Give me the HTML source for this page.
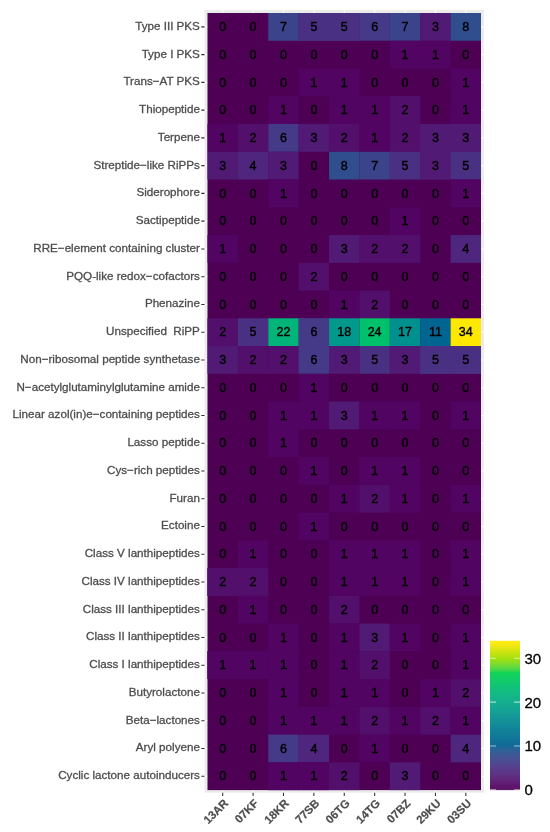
<!DOCTYPE html>
<html><head><meta charset="utf-8"><title>heatmap</title>
<style>html,body{margin:0;padding:0;background:#fff}svg{display:block}</style></head>
<body>
<svg width="550" height="832" viewBox="0 0 550 832" font-family="Liberation Sans, Arial, Helvetica, sans-serif">
<rect width="550" height="832" fill="#fff"/>
<rect x="204.55" y="10.1" width="279.34999999999997" height="782.6" fill="#EBEBEB"/>
<path d="M222.69 10.1V792.7M253.08 10.1V792.7M283.47 10.1V792.7M313.86 10.1V792.7M344.25 10.1V792.7M374.64 10.1V792.7M405.03 10.1V792.7M435.42 10.1V792.7M465.81 10.1V792.7M204.55 26.88H483.9M204.55 54.63H483.9M204.55 82.38H483.9M204.55 110.14H483.9M204.55 137.89H483.9M204.55 165.64H483.9M204.55 193.40H483.9M204.55 221.15H483.9M204.55 248.91H483.9M204.55 276.66H483.9M204.55 304.41H483.9M204.55 332.17H483.9M204.55 359.92H483.9M204.55 387.67H483.9M204.55 415.43H483.9M204.55 443.18H483.9M204.55 470.93H483.9M204.55 498.69H483.9M204.55 526.44H483.9M204.55 554.19H483.9M204.55 581.95H483.9M204.55 609.70H483.9M204.55 637.46H483.9M204.55 665.21H483.9M204.55 692.96H483.9M204.55 720.72H483.9M204.55 748.47H483.9M204.55 776.22H483.9" stroke="#fff" stroke-width="1.07" fill="none"/>
<g>
<rect x="207.5" y="13.0" width="273.50" height="777.10" fill="#4E0055"/>
<rect x="298.67" y="13.00" width="30.84" height="27.75" fill="#4A3083"/>
<rect x="328.61" y="13.00" width="30.84" height="27.75" fill="#4A3083"/>
<rect x="389.83" y="40.75" width="30.84" height="27.75" fill="#510461"/>
<rect x="419.77" y="40.75" width="30.84" height="27.75" fill="#510461"/>
<rect x="298.67" y="68.51" width="30.84" height="27.75" fill="#510461"/>
<rect x="328.61" y="68.51" width="30.84" height="28.20" fill="#510461"/>
<rect x="450.61" y="68.51" width="30.39" height="28.20" fill="#510461"/>
<rect x="329.06" y="95.81" width="30.84" height="28.20" fill="#510461"/>
<rect x="358.99" y="96.26" width="30.84" height="28.20" fill="#510461"/>
<rect x="389.83" y="96.26" width="30.39" height="28.20" fill="#520F6B"/>
<rect x="450.61" y="95.81" width="30.39" height="28.20" fill="#510461"/>
<rect x="359.44" y="123.56" width="30.39" height="28.20" fill="#510461"/>
<rect x="389.83" y="123.56" width="30.39" height="28.20" fill="#520F6B"/>
<rect x="420.22" y="124.01" width="30.84" height="28.20" fill="#511B75"/>
<rect x="450.16" y="124.01" width="30.84" height="27.75" fill="#511B75"/>
<rect x="420.22" y="151.32" width="30.39" height="28.20" fill="#511B75"/>
<rect x="359.44" y="235.03" width="30.84" height="27.75" fill="#520F6B"/>
<rect x="389.38" y="235.03" width="30.84" height="27.75" fill="#520F6B"/>
<rect x="298.67" y="318.29" width="30.39" height="28.20" fill="#443A88"/>
<rect x="237.89" y="346.04" width="30.84" height="27.75" fill="#520F6B"/>
<rect x="267.83" y="346.04" width="30.84" height="27.75" fill="#520F6B"/>
<rect x="298.67" y="345.59" width="30.39" height="28.20" fill="#443A88"/>
<rect x="420.22" y="346.04" width="30.84" height="27.75" fill="#4A3083"/>
<rect x="450.16" y="346.04" width="30.84" height="27.75" fill="#4A3083"/>
<rect x="298.67" y="373.80" width="30.39" height="28.20" fill="#510461"/>
<rect x="268.28" y="401.55" width="30.84" height="28.20" fill="#510461"/>
<rect x="298.22" y="401.10" width="30.84" height="28.20" fill="#510461"/>
<rect x="359.44" y="401.55" width="30.84" height="27.75" fill="#510461"/>
<rect x="389.38" y="401.55" width="30.84" height="27.75" fill="#510461"/>
<rect x="268.28" y="428.85" width="30.39" height="28.20" fill="#510461"/>
<rect x="359.44" y="457.06" width="30.84" height="27.75" fill="#510461"/>
<rect x="389.38" y="457.06" width="30.84" height="28.20" fill="#510461"/>
<rect x="389.83" y="484.36" width="30.39" height="28.20" fill="#510461"/>
<rect x="329.06" y="540.32" width="30.84" height="28.20" fill="#510461"/>
<rect x="358.99" y="540.32" width="31.29" height="28.20" fill="#510461"/>
<rect x="389.38" y="540.32" width="30.84" height="28.20" fill="#510461"/>
<rect x="450.61" y="540.32" width="30.39" height="28.20" fill="#510461"/>
<rect x="207.50" y="568.07" width="30.84" height="27.75" fill="#520F6B"/>
<rect x="237.44" y="568.07" width="30.84" height="27.75" fill="#520F6B"/>
<rect x="329.06" y="567.62" width="30.84" height="28.20" fill="#510461"/>
<rect x="358.99" y="567.62" width="31.29" height="28.20" fill="#510461"/>
<rect x="389.38" y="567.62" width="30.84" height="28.20" fill="#510461"/>
<rect x="450.61" y="567.62" width="30.39" height="28.20" fill="#510461"/>
<rect x="268.28" y="623.58" width="30.39" height="28.20" fill="#510461"/>
<rect x="329.06" y="623.58" width="30.39" height="28.20" fill="#510461"/>
<rect x="450.61" y="623.58" width="30.39" height="28.20" fill="#510461"/>
<rect x="207.50" y="651.33" width="30.84" height="27.75" fill="#510461"/>
<rect x="237.44" y="651.33" width="31.29" height="27.75" fill="#510461"/>
<rect x="267.83" y="650.88" width="30.84" height="28.65" fill="#510461"/>
<rect x="329.06" y="650.88" width="30.39" height="28.65" fill="#510461"/>
<rect x="450.61" y="650.88" width="30.39" height="28.20" fill="#510461"/>
<rect x="268.28" y="678.64" width="30.39" height="28.65" fill="#510461"/>
<rect x="329.06" y="678.64" width="30.84" height="28.65" fill="#510461"/>
<rect x="358.99" y="679.09" width="30.84" height="27.75" fill="#510461"/>
<rect x="268.28" y="706.39" width="30.84" height="28.20" fill="#510461"/>
<rect x="298.22" y="706.84" width="31.29" height="27.75" fill="#510461"/>
<rect x="328.61" y="706.39" width="30.84" height="28.20" fill="#510461"/>
<rect x="268.28" y="762.35" width="30.84" height="27.75" fill="#510461"/>
<rect x="298.22" y="762.35" width="30.84" height="27.75" fill="#510461"/>
<rect x="268.28" y="13.00" width="30.39" height="27.75" fill="#3B448B"/>
<rect x="298.67" y="13.00" width="30.39" height="27.75" fill="#4A3083"/>
<rect x="329.06" y="13.00" width="30.39" height="27.75" fill="#4A3083"/>
<rect x="359.44" y="13.00" width="30.39" height="27.75" fill="#443A88"/>
<rect x="389.83" y="13.00" width="30.39" height="27.75" fill="#3B448B"/>
<rect x="420.22" y="13.00" width="30.39" height="27.75" fill="#511B75"/>
<rect x="450.61" y="13.00" width="30.39" height="27.75" fill="#304D8D"/>
<rect x="389.83" y="40.75" width="30.39" height="27.75" fill="#510461"/>
<rect x="420.22" y="40.75" width="30.39" height="27.75" fill="#510461"/>
<rect x="298.67" y="68.51" width="30.39" height="27.75" fill="#510461"/>
<rect x="329.06" y="68.51" width="30.39" height="27.75" fill="#510461"/>
<rect x="450.61" y="68.51" width="30.39" height="27.75" fill="#510461"/>
<rect x="268.28" y="96.26" width="30.39" height="27.75" fill="#510461"/>
<rect x="329.06" y="96.26" width="30.39" height="27.75" fill="#510461"/>
<rect x="359.44" y="96.26" width="30.39" height="27.75" fill="#510461"/>
<rect x="389.83" y="96.26" width="30.39" height="27.75" fill="#520F6B"/>
<rect x="450.61" y="96.26" width="30.39" height="27.75" fill="#510461"/>
<rect x="207.50" y="124.01" width="30.39" height="27.75" fill="#510461"/>
<rect x="237.89" y="124.01" width="30.39" height="27.75" fill="#520F6B"/>
<rect x="268.28" y="124.01" width="30.39" height="27.75" fill="#443A88"/>
<rect x="298.67" y="124.01" width="30.39" height="27.75" fill="#511B75"/>
<rect x="329.06" y="124.01" width="30.39" height="27.75" fill="#520F6B"/>
<rect x="359.44" y="124.01" width="30.39" height="27.75" fill="#510461"/>
<rect x="389.83" y="124.01" width="30.39" height="27.75" fill="#520F6B"/>
<rect x="420.22" y="124.01" width="30.39" height="27.75" fill="#511B75"/>
<rect x="450.61" y="124.01" width="30.39" height="27.75" fill="#511B75"/>
<rect x="207.50" y="151.77" width="30.39" height="27.75" fill="#511B75"/>
<rect x="237.89" y="151.77" width="30.39" height="27.75" fill="#4F267D"/>
<rect x="268.28" y="151.77" width="30.39" height="27.75" fill="#511B75"/>
<rect x="329.06" y="151.77" width="30.39" height="27.75" fill="#304D8D"/>
<rect x="359.44" y="151.77" width="30.39" height="27.75" fill="#3B448B"/>
<rect x="389.83" y="151.77" width="30.39" height="27.75" fill="#4A3083"/>
<rect x="420.22" y="151.77" width="30.39" height="27.75" fill="#511B75"/>
<rect x="450.61" y="151.77" width="30.39" height="27.75" fill="#4A3083"/>
<rect x="268.28" y="179.52" width="30.39" height="27.75" fill="#510461"/>
<rect x="450.61" y="179.52" width="30.39" height="27.75" fill="#510461"/>
<rect x="389.83" y="207.28" width="30.39" height="27.75" fill="#510461"/>
<rect x="207.50" y="235.03" width="30.39" height="27.75" fill="#510461"/>
<rect x="329.06" y="235.03" width="30.39" height="27.75" fill="#511B75"/>
<rect x="359.44" y="235.03" width="30.39" height="27.75" fill="#520F6B"/>
<rect x="389.83" y="235.03" width="30.39" height="27.75" fill="#520F6B"/>
<rect x="450.61" y="235.03" width="30.39" height="27.75" fill="#4F267D"/>
<rect x="298.67" y="262.78" width="30.39" height="27.75" fill="#520F6B"/>
<rect x="329.06" y="290.54" width="30.39" height="27.75" fill="#510461"/>
<rect x="359.44" y="290.54" width="30.39" height="27.75" fill="#520F6B"/>
<rect x="207.50" y="318.29" width="30.39" height="27.75" fill="#520F6B"/>
<rect x="237.89" y="318.29" width="30.39" height="27.75" fill="#4A3083"/>
<rect x="268.28" y="318.29" width="30.39" height="27.75" fill="#00B47A"/>
<rect x="298.67" y="318.29" width="30.39" height="27.75" fill="#443A88"/>
<rect x="329.06" y="318.29" width="30.39" height="27.75" fill="#00998C"/>
<rect x="359.44" y="318.29" width="30.39" height="27.75" fill="#00C16B"/>
<rect x="389.83" y="318.29" width="30.39" height="27.75" fill="#00918E"/>
<rect x="420.22" y="318.29" width="30.39" height="27.75" fill="#006590"/>
<rect x="450.61" y="318.29" width="30.39" height="27.75" fill="#FFE800"/>
<rect x="207.50" y="346.04" width="30.39" height="27.75" fill="#511B75"/>
<rect x="237.89" y="346.04" width="30.39" height="27.75" fill="#520F6B"/>
<rect x="268.28" y="346.04" width="30.39" height="27.75" fill="#520F6B"/>
<rect x="298.67" y="346.04" width="30.39" height="27.75" fill="#443A88"/>
<rect x="329.06" y="346.04" width="30.39" height="27.75" fill="#511B75"/>
<rect x="359.44" y="346.04" width="30.39" height="27.75" fill="#4A3083"/>
<rect x="389.83" y="346.04" width="30.39" height="27.75" fill="#511B75"/>
<rect x="420.22" y="346.04" width="30.39" height="27.75" fill="#4A3083"/>
<rect x="450.61" y="346.04" width="30.39" height="27.75" fill="#4A3083"/>
<rect x="298.67" y="373.80" width="30.39" height="27.75" fill="#510461"/>
<rect x="268.28" y="401.55" width="30.39" height="27.75" fill="#510461"/>
<rect x="298.67" y="401.55" width="30.39" height="27.75" fill="#510461"/>
<rect x="329.06" y="401.55" width="30.39" height="27.75" fill="#511B75"/>
<rect x="359.44" y="401.55" width="30.39" height="27.75" fill="#510461"/>
<rect x="389.83" y="401.55" width="30.39" height="27.75" fill="#510461"/>
<rect x="450.61" y="401.55" width="30.39" height="27.75" fill="#510461"/>
<rect x="268.28" y="429.30" width="30.39" height="27.75" fill="#510461"/>
<rect x="298.67" y="457.06" width="30.39" height="27.75" fill="#510461"/>
<rect x="359.44" y="457.06" width="30.39" height="27.75" fill="#510461"/>
<rect x="389.83" y="457.06" width="30.39" height="27.75" fill="#510461"/>
<rect x="329.06" y="484.81" width="30.39" height="27.75" fill="#510461"/>
<rect x="359.44" y="484.81" width="30.39" height="27.75" fill="#520F6B"/>
<rect x="389.83" y="484.81" width="30.39" height="27.75" fill="#510461"/>
<rect x="450.61" y="484.81" width="30.39" height="27.75" fill="#510461"/>
<rect x="298.67" y="512.56" width="30.39" height="27.75" fill="#510461"/>
<rect x="237.89" y="540.32" width="30.39" height="27.75" fill="#510461"/>
<rect x="329.06" y="540.32" width="30.39" height="27.75" fill="#510461"/>
<rect x="359.44" y="540.32" width="30.39" height="27.75" fill="#510461"/>
<rect x="389.83" y="540.32" width="30.39" height="27.75" fill="#510461"/>
<rect x="450.61" y="540.32" width="30.39" height="27.75" fill="#510461"/>
<rect x="207.50" y="568.07" width="30.39" height="27.75" fill="#520F6B"/>
<rect x="237.89" y="568.07" width="30.39" height="27.75" fill="#520F6B"/>
<rect x="329.06" y="568.07" width="30.39" height="27.75" fill="#510461"/>
<rect x="359.44" y="568.07" width="30.39" height="27.75" fill="#510461"/>
<rect x="389.83" y="568.07" width="30.39" height="27.75" fill="#510461"/>
<rect x="450.61" y="568.07" width="30.39" height="27.75" fill="#510461"/>
<rect x="237.89" y="595.83" width="30.39" height="27.75" fill="#510461"/>
<rect x="329.06" y="595.83" width="30.39" height="27.75" fill="#520F6B"/>
<rect x="268.28" y="623.58" width="30.39" height="27.75" fill="#510461"/>
<rect x="329.06" y="623.58" width="30.39" height="27.75" fill="#510461"/>
<rect x="359.44" y="623.58" width="30.39" height="27.75" fill="#511B75"/>
<rect x="389.83" y="623.58" width="30.39" height="27.75" fill="#510461"/>
<rect x="450.61" y="623.58" width="30.39" height="27.75" fill="#510461"/>
<rect x="207.50" y="651.33" width="30.39" height="27.75" fill="#510461"/>
<rect x="237.89" y="651.33" width="30.39" height="27.75" fill="#510461"/>
<rect x="268.28" y="651.33" width="30.39" height="27.75" fill="#510461"/>
<rect x="329.06" y="651.33" width="30.39" height="27.75" fill="#510461"/>
<rect x="359.44" y="651.33" width="30.39" height="27.75" fill="#520F6B"/>
<rect x="450.61" y="651.33" width="30.39" height="27.75" fill="#510461"/>
<rect x="268.28" y="679.09" width="30.39" height="27.75" fill="#510461"/>
<rect x="329.06" y="679.09" width="30.39" height="27.75" fill="#510461"/>
<rect x="359.44" y="679.09" width="30.39" height="27.75" fill="#510461"/>
<rect x="420.22" y="679.09" width="30.39" height="27.75" fill="#510461"/>
<rect x="450.61" y="679.09" width="30.39" height="27.75" fill="#520F6B"/>
<rect x="268.28" y="706.84" width="30.39" height="27.75" fill="#510461"/>
<rect x="298.67" y="706.84" width="30.39" height="27.75" fill="#510461"/>
<rect x="329.06" y="706.84" width="30.39" height="27.75" fill="#510461"/>
<rect x="359.44" y="706.84" width="30.39" height="27.75" fill="#520F6B"/>
<rect x="389.83" y="706.84" width="30.39" height="27.75" fill="#510461"/>
<rect x="420.22" y="706.84" width="30.39" height="27.75" fill="#520F6B"/>
<rect x="450.61" y="706.84" width="30.39" height="27.75" fill="#510461"/>
<rect x="268.28" y="734.59" width="30.39" height="27.75" fill="#443A88"/>
<rect x="298.67" y="734.59" width="30.39" height="27.75" fill="#4F267D"/>
<rect x="359.44" y="734.59" width="30.39" height="27.75" fill="#510461"/>
<rect x="450.61" y="734.59" width="30.39" height="27.75" fill="#4F267D"/>
<rect x="268.28" y="762.35" width="30.39" height="27.75" fill="#510461"/>
<rect x="298.67" y="762.35" width="30.39" height="27.75" fill="#510461"/>
<rect x="329.06" y="762.35" width="30.39" height="27.75" fill="#520F6B"/>
<rect x="389.83" y="762.35" width="30.39" height="27.75" fill="#511B75"/>
</g>
<g font-size="12.5" text-anchor="middle" fill="#000" stroke="#000" stroke-width="0.4">
<text x="222.69" y="31.13">0</text>
<text x="253.08" y="31.13">0</text>
<text x="283.47" y="31.13">7</text>
<text x="313.86" y="31.13">5</text>
<text x="344.25" y="31.13">5</text>
<text x="374.64" y="31.13">6</text>
<text x="405.03" y="31.13">7</text>
<text x="435.42" y="31.13">3</text>
<text x="465.81" y="31.13">8</text>
<text x="222.69" y="58.88">0</text>
<text x="253.08" y="58.88">0</text>
<text x="283.47" y="58.88">0</text>
<text x="313.86" y="58.88">0</text>
<text x="344.25" y="58.88">0</text>
<text x="374.64" y="58.88">0</text>
<text x="405.03" y="58.88">1</text>
<text x="435.42" y="58.88">1</text>
<text x="465.81" y="58.88">0</text>
<text x="222.69" y="86.63">0</text>
<text x="253.08" y="86.63">0</text>
<text x="283.47" y="86.63">0</text>
<text x="313.86" y="86.63">1</text>
<text x="344.25" y="86.63">1</text>
<text x="374.64" y="86.63">0</text>
<text x="405.03" y="86.63">0</text>
<text x="435.42" y="86.63">0</text>
<text x="465.81" y="86.63">1</text>
<text x="222.69" y="114.39">0</text>
<text x="253.08" y="114.39">0</text>
<text x="283.47" y="114.39">1</text>
<text x="313.86" y="114.39">0</text>
<text x="344.25" y="114.39">1</text>
<text x="374.64" y="114.39">1</text>
<text x="405.03" y="114.39">2</text>
<text x="435.42" y="114.39">0</text>
<text x="465.81" y="114.39">1</text>
<text x="222.69" y="142.14">1</text>
<text x="253.08" y="142.14">2</text>
<text x="283.47" y="142.14">6</text>
<text x="313.86" y="142.14">3</text>
<text x="344.25" y="142.14">2</text>
<text x="374.64" y="142.14">1</text>
<text x="405.03" y="142.14">2</text>
<text x="435.42" y="142.14">3</text>
<text x="465.81" y="142.14">3</text>
<text x="222.69" y="169.89">3</text>
<text x="253.08" y="169.89">4</text>
<text x="283.47" y="169.89">3</text>
<text x="313.86" y="169.89">0</text>
<text x="344.25" y="169.89">8</text>
<text x="374.64" y="169.89">7</text>
<text x="405.03" y="169.89">5</text>
<text x="435.42" y="169.89">3</text>
<text x="465.81" y="169.89">5</text>
<text x="222.69" y="197.65">0</text>
<text x="253.08" y="197.65">0</text>
<text x="283.47" y="197.65">1</text>
<text x="313.86" y="197.65">0</text>
<text x="344.25" y="197.65">0</text>
<text x="374.64" y="197.65">0</text>
<text x="405.03" y="197.65">0</text>
<text x="435.42" y="197.65">0</text>
<text x="465.81" y="197.65">1</text>
<text x="222.69" y="225.40">0</text>
<text x="253.08" y="225.40">0</text>
<text x="283.47" y="225.40">0</text>
<text x="313.86" y="225.40">0</text>
<text x="344.25" y="225.40">0</text>
<text x="374.64" y="225.40">0</text>
<text x="405.03" y="225.40">1</text>
<text x="435.42" y="225.40">0</text>
<text x="465.81" y="225.40">0</text>
<text x="222.69" y="253.16">1</text>
<text x="253.08" y="253.16">0</text>
<text x="283.47" y="253.16">0</text>
<text x="313.86" y="253.16">0</text>
<text x="344.25" y="253.16">3</text>
<text x="374.64" y="253.16">2</text>
<text x="405.03" y="253.16">2</text>
<text x="435.42" y="253.16">0</text>
<text x="465.81" y="253.16">4</text>
<text x="222.69" y="280.91">0</text>
<text x="253.08" y="280.91">0</text>
<text x="283.47" y="280.91">0</text>
<text x="313.86" y="280.91">2</text>
<text x="344.25" y="280.91">0</text>
<text x="374.64" y="280.91">0</text>
<text x="405.03" y="280.91">0</text>
<text x="435.42" y="280.91">0</text>
<text x="465.81" y="280.91">0</text>
<text x="222.69" y="308.66">0</text>
<text x="253.08" y="308.66">0</text>
<text x="283.47" y="308.66">0</text>
<text x="313.86" y="308.66">0</text>
<text x="344.25" y="308.66">1</text>
<text x="374.64" y="308.66">2</text>
<text x="405.03" y="308.66">0</text>
<text x="435.42" y="308.66">0</text>
<text x="465.81" y="308.66">0</text>
<text x="222.69" y="336.42">2</text>
<text x="253.08" y="336.42">5</text>
<text x="283.47" y="336.42">22</text>
<text x="313.86" y="336.42">6</text>
<text x="344.25" y="336.42">18</text>
<text x="374.64" y="336.42">24</text>
<text x="405.03" y="336.42">17</text>
<text x="435.42" y="336.42">11</text>
<text x="465.81" y="336.42">34</text>
<text x="222.69" y="364.17">3</text>
<text x="253.08" y="364.17">2</text>
<text x="283.47" y="364.17">2</text>
<text x="313.86" y="364.17">6</text>
<text x="344.25" y="364.17">3</text>
<text x="374.64" y="364.17">5</text>
<text x="405.03" y="364.17">3</text>
<text x="435.42" y="364.17">5</text>
<text x="465.81" y="364.17">5</text>
<text x="222.69" y="391.92">0</text>
<text x="253.08" y="391.92">0</text>
<text x="283.47" y="391.92">0</text>
<text x="313.86" y="391.92">1</text>
<text x="344.25" y="391.92">0</text>
<text x="374.64" y="391.92">0</text>
<text x="405.03" y="391.92">0</text>
<text x="435.42" y="391.92">0</text>
<text x="465.81" y="391.92">0</text>
<text x="222.69" y="419.68">0</text>
<text x="253.08" y="419.68">0</text>
<text x="283.47" y="419.68">1</text>
<text x="313.86" y="419.68">1</text>
<text x="344.25" y="419.68">3</text>
<text x="374.64" y="419.68">1</text>
<text x="405.03" y="419.68">1</text>
<text x="435.42" y="419.68">0</text>
<text x="465.81" y="419.68">1</text>
<text x="222.69" y="447.43">0</text>
<text x="253.08" y="447.43">0</text>
<text x="283.47" y="447.43">1</text>
<text x="313.86" y="447.43">0</text>
<text x="344.25" y="447.43">0</text>
<text x="374.64" y="447.43">0</text>
<text x="405.03" y="447.43">0</text>
<text x="435.42" y="447.43">0</text>
<text x="465.81" y="447.43">0</text>
<text x="222.69" y="475.18">0</text>
<text x="253.08" y="475.18">0</text>
<text x="283.47" y="475.18">0</text>
<text x="313.86" y="475.18">1</text>
<text x="344.25" y="475.18">0</text>
<text x="374.64" y="475.18">1</text>
<text x="405.03" y="475.18">1</text>
<text x="435.42" y="475.18">0</text>
<text x="465.81" y="475.18">0</text>
<text x="222.69" y="502.94">0</text>
<text x="253.08" y="502.94">0</text>
<text x="283.47" y="502.94">0</text>
<text x="313.86" y="502.94">0</text>
<text x="344.25" y="502.94">1</text>
<text x="374.64" y="502.94">2</text>
<text x="405.03" y="502.94">1</text>
<text x="435.42" y="502.94">0</text>
<text x="465.81" y="502.94">1</text>
<text x="222.69" y="530.69">0</text>
<text x="253.08" y="530.69">0</text>
<text x="283.47" y="530.69">0</text>
<text x="313.86" y="530.69">1</text>
<text x="344.25" y="530.69">0</text>
<text x="374.64" y="530.69">0</text>
<text x="405.03" y="530.69">0</text>
<text x="435.42" y="530.69">0</text>
<text x="465.81" y="530.69">0</text>
<text x="222.69" y="558.44">0</text>
<text x="253.08" y="558.44">1</text>
<text x="283.47" y="558.44">0</text>
<text x="313.86" y="558.44">0</text>
<text x="344.25" y="558.44">1</text>
<text x="374.64" y="558.44">1</text>
<text x="405.03" y="558.44">1</text>
<text x="435.42" y="558.44">0</text>
<text x="465.81" y="558.44">1</text>
<text x="222.69" y="586.20">2</text>
<text x="253.08" y="586.20">2</text>
<text x="283.47" y="586.20">0</text>
<text x="313.86" y="586.20">0</text>
<text x="344.25" y="586.20">1</text>
<text x="374.64" y="586.20">1</text>
<text x="405.03" y="586.20">1</text>
<text x="435.42" y="586.20">0</text>
<text x="465.81" y="586.20">1</text>
<text x="222.69" y="613.95">0</text>
<text x="253.08" y="613.95">1</text>
<text x="283.47" y="613.95">0</text>
<text x="313.86" y="613.95">0</text>
<text x="344.25" y="613.95">2</text>
<text x="374.64" y="613.95">0</text>
<text x="405.03" y="613.95">0</text>
<text x="435.42" y="613.95">0</text>
<text x="465.81" y="613.95">0</text>
<text x="222.69" y="641.71">0</text>
<text x="253.08" y="641.71">0</text>
<text x="283.47" y="641.71">1</text>
<text x="313.86" y="641.71">0</text>
<text x="344.25" y="641.71">1</text>
<text x="374.64" y="641.71">3</text>
<text x="405.03" y="641.71">1</text>
<text x="435.42" y="641.71">0</text>
<text x="465.81" y="641.71">1</text>
<text x="222.69" y="669.46">1</text>
<text x="253.08" y="669.46">1</text>
<text x="283.47" y="669.46">1</text>
<text x="313.86" y="669.46">0</text>
<text x="344.25" y="669.46">1</text>
<text x="374.64" y="669.46">2</text>
<text x="405.03" y="669.46">0</text>
<text x="435.42" y="669.46">0</text>
<text x="465.81" y="669.46">1</text>
<text x="222.69" y="697.21">0</text>
<text x="253.08" y="697.21">0</text>
<text x="283.47" y="697.21">1</text>
<text x="313.86" y="697.21">0</text>
<text x="344.25" y="697.21">1</text>
<text x="374.64" y="697.21">1</text>
<text x="405.03" y="697.21">0</text>
<text x="435.42" y="697.21">1</text>
<text x="465.81" y="697.21">2</text>
<text x="222.69" y="724.97">0</text>
<text x="253.08" y="724.97">0</text>
<text x="283.47" y="724.97">1</text>
<text x="313.86" y="724.97">1</text>
<text x="344.25" y="724.97">1</text>
<text x="374.64" y="724.97">2</text>
<text x="405.03" y="724.97">1</text>
<text x="435.42" y="724.97">2</text>
<text x="465.81" y="724.97">1</text>
<text x="222.69" y="752.72">0</text>
<text x="253.08" y="752.72">0</text>
<text x="283.47" y="752.72">6</text>
<text x="313.86" y="752.72">4</text>
<text x="344.25" y="752.72">0</text>
<text x="374.64" y="752.72">1</text>
<text x="405.03" y="752.72">0</text>
<text x="435.42" y="752.72">0</text>
<text x="465.81" y="752.72">4</text>
<text x="222.69" y="780.47">0</text>
<text x="253.08" y="780.47">0</text>
<text x="283.47" y="780.47">1</text>
<text x="313.86" y="780.47">1</text>
<text x="344.25" y="780.47">2</text>
<text x="374.64" y="780.47">0</text>
<text x="405.03" y="780.47">3</text>
<text x="435.42" y="780.47">0</text>
<text x="465.81" y="780.47">0</text>
</g>
<g font-size="11.65" text-anchor="end" fill="#4D4D4D" stroke="#4D4D4D" stroke-width="0.3">
<text x="199.9" y="29.78" xml:space="preserve">Type III PKS</text>
<text x="199.9" y="57.53" xml:space="preserve">Type I PKS</text>
<text x="199.9" y="85.28" xml:space="preserve">Trans−AT PKS</text>
<text x="199.9" y="113.04" xml:space="preserve">Thiopeptide</text>
<text x="199.9" y="140.79" xml:space="preserve">Terpene</text>
<text x="199.9" y="168.54" xml:space="preserve">Streptide−like RiPPs</text>
<text x="199.9" y="196.30" xml:space="preserve">Siderophore</text>
<text x="199.9" y="224.05" xml:space="preserve">Sactipeptide</text>
<text x="199.9" y="251.81" xml:space="preserve">RRE−element containing cluster</text>
<text x="199.9" y="279.56" xml:space="preserve">PQQ-like redox−cofactors</text>
<text x="199.9" y="307.31" xml:space="preserve">Phenazine</text>
<text x="199.9" y="335.07" xml:space="preserve">Unspecified  RiPP</text>
<text x="199.9" y="362.82" xml:space="preserve">Non−ribosomal peptide synthetase</text>
<text x="199.9" y="390.57" xml:space="preserve">N−acetylglutaminylglutamine amide</text>
<text x="199.9" y="418.33" xml:space="preserve">Linear azol(in)e−containing peptides</text>
<text x="199.9" y="446.08" xml:space="preserve">Lasso peptide</text>
<text x="199.9" y="473.83" xml:space="preserve">Cys−rich peptides</text>
<text x="199.9" y="501.59" xml:space="preserve">Furan</text>
<text x="199.9" y="529.34" xml:space="preserve">Ectoine</text>
<text x="199.9" y="557.09" xml:space="preserve">Class V lanthipeptides</text>
<text x="199.9" y="584.85" xml:space="preserve">Class IV lanthipeptides</text>
<text x="199.9" y="612.60" xml:space="preserve">Class III lanthipeptides</text>
<text x="199.9" y="640.36" xml:space="preserve">Class II lanthipeptides</text>
<text x="199.9" y="668.11" xml:space="preserve">Class I lanthipeptides</text>
<text x="199.9" y="695.86" xml:space="preserve">Butyrolactone</text>
<text x="199.9" y="723.62" xml:space="preserve">Beta−lactones</text>
<text x="199.9" y="751.37" xml:space="preserve">Aryl polyene</text>
<text x="199.9" y="779.12" xml:space="preserve">Cyclic lactone autoinducers</text>
</g>
<path d="M201.25 26.88H204.55M201.25 54.63H204.55M201.25 82.38H204.55M201.25 110.14H204.55M201.25 137.89H204.55M201.25 165.64H204.55M201.25 193.40H204.55M201.25 221.15H204.55M201.25 248.91H204.55M201.25 276.66H204.55M201.25 304.41H204.55M201.25 332.17H204.55M201.25 359.92H204.55M201.25 387.67H204.55M201.25 415.43H204.55M201.25 443.18H204.55M201.25 470.93H204.55M201.25 498.69H204.55M201.25 526.44H204.55M201.25 554.19H204.55M201.25 581.95H204.55M201.25 609.70H204.55M201.25 637.46H204.55M201.25 665.21H204.55M201.25 692.96H204.55M201.25 720.72H204.55M201.25 748.47H204.55M201.25 776.22H204.55M222.69 792.7v3.3M253.08 792.7v3.3M283.47 792.7v3.3M313.86 792.7v3.3M344.25 792.7v3.3M374.64 792.7v3.3M405.03 792.7v3.3M435.42 792.7v3.3M465.81 792.7v3.3" stroke="#333" stroke-width="1.07" fill="none"/>
<g font-size="11.4" font-weight="bold" text-anchor="end" fill="#4D4D4D" stroke="#4D4D4D" stroke-width="0.2">
<text transform="translate(228.89 804.00) rotate(-45)">13AR</text>
<text transform="translate(259.28 804.00) rotate(-45)">07KF</text>
<text transform="translate(289.67 804.00) rotate(-45)">18KR</text>
<text transform="translate(320.06 804.00) rotate(-45)">77SB</text>
<text transform="translate(350.45 804.00) rotate(-45)">06TG</text>
<text transform="translate(380.84 804.00) rotate(-45)">14TG</text>
<text transform="translate(411.23 804.00) rotate(-45)">07BZ</text>
<text transform="translate(441.62 804.00) rotate(-45)">29KU</text>
<text transform="translate(472.01 804.00) rotate(-45)">03SU</text>
</g>
<rect x="490.0" y="789.30" width="30.0" height="0.80" fill="#4E0055"/>
<rect x="490.0" y="788.81" width="30.0" height="0.80" fill="#4F0056"/>
<rect x="490.0" y="788.31" width="30.0" height="0.80" fill="#4F0058"/>
<rect x="490.0" y="787.81" width="30.0" height="0.80" fill="#4F0059"/>
<rect x="490.0" y="787.32" width="30.0" height="0.80" fill="#50015A"/>
<rect x="490.0" y="786.82" width="30.0" height="0.80" fill="#50015C"/>
<rect x="490.0" y="786.32" width="30.0" height="0.80" fill="#50025D"/>
<rect x="490.0" y="785.83" width="30.0" height="0.80" fill="#51025F"/>
<rect x="490.0" y="785.33" width="30.0" height="0.80" fill="#510360"/>
<rect x="490.0" y="784.83" width="30.0" height="0.80" fill="#510461"/>
<rect x="490.0" y="784.34" width="30.0" height="0.80" fill="#510562"/>
<rect x="490.0" y="783.84" width="30.0" height="0.80" fill="#510664"/>
<rect x="490.0" y="783.34" width="30.0" height="0.80" fill="#520865"/>
<rect x="490.0" y="782.85" width="30.0" height="0.80" fill="#520966"/>
<rect x="490.0" y="782.35" width="30.0" height="0.80" fill="#520A67"/>
<rect x="490.0" y="781.85" width="30.0" height="0.80" fill="#520C68"/>
<rect x="490.0" y="781.36" width="30.0" height="0.80" fill="#520D6A"/>
<rect x="490.0" y="780.86" width="30.0" height="0.80" fill="#520F6B"/>
<rect x="490.0" y="780.36" width="30.0" height="0.80" fill="#52106C"/>
<rect x="490.0" y="779.87" width="30.0" height="0.80" fill="#52116D"/>
<rect x="490.0" y="779.37" width="30.0" height="0.80" fill="#52136E"/>
<rect x="490.0" y="778.87" width="30.0" height="0.80" fill="#52146F"/>
<rect x="490.0" y="778.38" width="30.0" height="0.80" fill="#521570"/>
<rect x="490.0" y="777.88" width="30.0" height="0.80" fill="#521771"/>
<rect x="490.0" y="777.38" width="30.0" height="0.80" fill="#521872"/>
<rect x="490.0" y="776.89" width="30.0" height="0.80" fill="#511973"/>
<rect x="490.0" y="776.39" width="30.0" height="0.80" fill="#511A74"/>
<rect x="490.0" y="775.89" width="30.0" height="0.80" fill="#511C75"/>
<rect x="490.0" y="775.40" width="30.0" height="0.80" fill="#511D76"/>
<rect x="490.0" y="774.90" width="30.0" height="0.80" fill="#511E77"/>
<rect x="490.0" y="774.40" width="30.0" height="0.80" fill="#501F78"/>
<rect x="490.0" y="773.91" width="30.0" height="0.80" fill="#502179"/>
<rect x="490.0" y="773.41" width="30.0" height="0.80" fill="#50227A"/>
<rect x="490.0" y="772.91" width="30.0" height="0.80" fill="#50237B"/>
<rect x="490.0" y="772.42" width="30.0" height="0.80" fill="#4F247C"/>
<rect x="490.0" y="771.92" width="30.0" height="0.80" fill="#4F267C"/>
<rect x="490.0" y="771.42" width="30.0" height="0.80" fill="#4E277D"/>
<rect x="490.0" y="770.93" width="30.0" height="0.80" fill="#4E287E"/>
<rect x="490.0" y="770.43" width="30.0" height="0.80" fill="#4D297F"/>
<rect x="490.0" y="769.93" width="30.0" height="0.80" fill="#4D2A7F"/>
<rect x="490.0" y="769.44" width="30.0" height="0.80" fill="#4D2C80"/>
<rect x="490.0" y="768.94" width="30.0" height="0.80" fill="#4C2D81"/>
<rect x="490.0" y="768.44" width="30.0" height="0.80" fill="#4B2E82"/>
<rect x="490.0" y="767.95" width="30.0" height="0.80" fill="#4B2F82"/>
<rect x="490.0" y="767.45" width="30.0" height="0.80" fill="#4A3083"/>
<rect x="490.0" y="766.95" width="30.0" height="0.80" fill="#4A3183"/>
<rect x="490.0" y="766.46" width="30.0" height="0.80" fill="#493284"/>
<rect x="490.0" y="765.96" width="30.0" height="0.80" fill="#483485"/>
<rect x="490.0" y="765.46" width="30.0" height="0.80" fill="#483585"/>
<rect x="490.0" y="764.97" width="30.0" height="0.80" fill="#473686"/>
<rect x="490.0" y="764.47" width="30.0" height="0.80" fill="#463786"/>
<rect x="490.0" y="763.97" width="30.0" height="0.80" fill="#453887"/>
<rect x="490.0" y="763.48" width="30.0" height="0.80" fill="#453987"/>
<rect x="490.0" y="762.98" width="30.0" height="0.80" fill="#443A88"/>
<rect x="490.0" y="762.48" width="30.0" height="0.80" fill="#433B88"/>
<rect x="490.0" y="761.99" width="30.0" height="0.80" fill="#423D89"/>
<rect x="490.0" y="761.49" width="30.0" height="0.80" fill="#413E89"/>
<rect x="490.0" y="760.99" width="30.0" height="0.80" fill="#403F89"/>
<rect x="490.0" y="760.50" width="30.0" height="0.80" fill="#3F408A"/>
<rect x="490.0" y="760.00" width="30.0" height="0.80" fill="#3E418A"/>
<rect x="490.0" y="759.50" width="30.0" height="0.80" fill="#3D428A"/>
<rect x="490.0" y="759.01" width="30.0" height="0.80" fill="#3C438B"/>
<rect x="490.0" y="758.51" width="30.0" height="0.80" fill="#3B448B"/>
<rect x="490.0" y="758.01" width="30.0" height="0.80" fill="#3A458B"/>
<rect x="490.0" y="757.52" width="30.0" height="0.80" fill="#39468C"/>
<rect x="490.0" y="757.02" width="30.0" height="0.80" fill="#37478C"/>
<rect x="490.0" y="756.52" width="30.0" height="0.80" fill="#36488C"/>
<rect x="490.0" y="756.03" width="30.0" height="0.80" fill="#35498D"/>
<rect x="490.0" y="755.53" width="30.0" height="0.80" fill="#344A8D"/>
<rect x="490.0" y="755.03" width="30.0" height="0.80" fill="#324B8D"/>
<rect x="490.0" y="754.54" width="30.0" height="0.80" fill="#314C8D"/>
<rect x="490.0" y="754.04" width="30.0" height="0.80" fill="#2F4D8E"/>
<rect x="490.0" y="753.54" width="30.0" height="0.80" fill="#2E4E8E"/>
<rect x="490.0" y="753.05" width="30.0" height="0.80" fill="#2C4F8E"/>
<rect x="490.0" y="752.55" width="30.0" height="0.80" fill="#2B508E"/>
<rect x="490.0" y="752.05" width="30.0" height="0.80" fill="#29518E"/>
<rect x="490.0" y="751.56" width="30.0" height="0.80" fill="#27528E"/>
<rect x="490.0" y="751.06" width="30.0" height="0.80" fill="#25538F"/>
<rect x="490.0" y="750.56" width="30.0" height="0.80" fill="#23548F"/>
<rect x="490.0" y="750.07" width="30.0" height="0.80" fill="#21558F"/>
<rect x="490.0" y="749.57" width="30.0" height="0.80" fill="#1F568F"/>
<rect x="490.0" y="749.07" width="30.0" height="0.80" fill="#1D578F"/>
<rect x="490.0" y="748.58" width="30.0" height="0.80" fill="#1A588F"/>
<rect x="490.0" y="748.08" width="30.0" height="0.80" fill="#17598F"/>
<rect x="490.0" y="747.58" width="30.0" height="0.80" fill="#145A90"/>
<rect x="490.0" y="747.09" width="30.0" height="0.80" fill="#105B90"/>
<rect x="490.0" y="746.59" width="30.0" height="0.80" fill="#0C5C90"/>
<rect x="490.0" y="746.09" width="30.0" height="0.80" fill="#065D90"/>
<rect x="490.0" y="745.60" width="30.0" height="0.80" fill="#015E90"/>
<rect x="490.0" y="745.10" width="30.0" height="0.80" fill="#005F90"/>
<rect x="490.0" y="744.60" width="30.0" height="0.80" fill="#005F90"/>
<rect x="490.0" y="744.11" width="30.0" height="0.80" fill="#006090"/>
<rect x="490.0" y="743.61" width="30.0" height="0.80" fill="#006190"/>
<rect x="490.0" y="743.11" width="30.0" height="0.80" fill="#006290"/>
<rect x="490.0" y="742.62" width="30.0" height="0.80" fill="#006390"/>
<rect x="490.0" y="742.12" width="30.0" height="0.80" fill="#006490"/>
<rect x="490.0" y="741.62" width="30.0" height="0.80" fill="#006590"/>
<rect x="490.0" y="741.13" width="30.0" height="0.80" fill="#006690"/>
<rect x="490.0" y="740.63" width="30.0" height="0.80" fill="#006790"/>
<rect x="490.0" y="740.13" width="30.0" height="0.80" fill="#006790"/>
<rect x="490.0" y="739.64" width="30.0" height="0.80" fill="#006891"/>
<rect x="490.0" y="739.14" width="30.0" height="0.80" fill="#006991"/>
<rect x="490.0" y="738.64" width="30.0" height="0.80" fill="#006A91"/>
<rect x="490.0" y="738.15" width="30.0" height="0.80" fill="#006B91"/>
<rect x="490.0" y="737.65" width="30.0" height="0.80" fill="#006C91"/>
<rect x="490.0" y="737.15" width="30.0" height="0.80" fill="#006D91"/>
<rect x="490.0" y="736.66" width="30.0" height="0.80" fill="#006E91"/>
<rect x="490.0" y="736.16" width="30.0" height="0.80" fill="#006E91"/>
<rect x="490.0" y="735.66" width="30.0" height="0.80" fill="#006F91"/>
<rect x="490.0" y="735.17" width="30.0" height="0.80" fill="#007091"/>
<rect x="490.0" y="734.67" width="30.0" height="0.80" fill="#007191"/>
<rect x="490.0" y="734.17" width="30.0" height="0.80" fill="#007291"/>
<rect x="490.0" y="733.68" width="30.0" height="0.80" fill="#007391"/>
<rect x="490.0" y="733.18" width="30.0" height="0.80" fill="#007391"/>
<rect x="490.0" y="732.68" width="30.0" height="0.80" fill="#007491"/>
<rect x="490.0" y="732.19" width="30.0" height="0.80" fill="#007591"/>
<rect x="490.0" y="731.69" width="30.0" height="0.80" fill="#007691"/>
<rect x="490.0" y="731.19" width="30.0" height="0.80" fill="#007791"/>
<rect x="490.0" y="730.70" width="30.0" height="0.80" fill="#007891"/>
<rect x="490.0" y="730.20" width="30.0" height="0.80" fill="#007891"/>
<rect x="490.0" y="729.70" width="30.0" height="0.80" fill="#007990"/>
<rect x="490.0" y="729.21" width="30.0" height="0.80" fill="#007A90"/>
<rect x="490.0" y="728.71" width="30.0" height="0.80" fill="#007B90"/>
<rect x="490.0" y="728.21" width="30.0" height="0.80" fill="#007C90"/>
<rect x="490.0" y="727.72" width="30.0" height="0.80" fill="#007D90"/>
<rect x="490.0" y="727.22" width="30.0" height="0.80" fill="#007D90"/>
<rect x="490.0" y="726.72" width="30.0" height="0.80" fill="#007E90"/>
<rect x="490.0" y="726.23" width="30.0" height="0.80" fill="#007F90"/>
<rect x="490.0" y="725.73" width="30.0" height="0.80" fill="#008090"/>
<rect x="490.0" y="725.23" width="30.0" height="0.80" fill="#008190"/>
<rect x="490.0" y="724.74" width="30.0" height="0.80" fill="#008290"/>
<rect x="490.0" y="724.24" width="30.0" height="0.80" fill="#008290"/>
<rect x="490.0" y="723.74" width="30.0" height="0.80" fill="#008390"/>
<rect x="490.0" y="723.25" width="30.0" height="0.80" fill="#008490"/>
<rect x="490.0" y="722.75" width="30.0" height="0.80" fill="#008590"/>
<rect x="490.0" y="722.25" width="30.0" height="0.80" fill="#008690"/>
<rect x="490.0" y="721.76" width="30.0" height="0.80" fill="#008690"/>
<rect x="490.0" y="721.26" width="30.0" height="0.80" fill="#00878F"/>
<rect x="490.0" y="720.76" width="30.0" height="0.80" fill="#00888F"/>
<rect x="490.0" y="720.27" width="30.0" height="0.80" fill="#00898F"/>
<rect x="490.0" y="719.77" width="30.0" height="0.80" fill="#008A8F"/>
<rect x="490.0" y="719.27" width="30.0" height="0.80" fill="#008B8F"/>
<rect x="490.0" y="718.78" width="30.0" height="0.80" fill="#008B8F"/>
<rect x="490.0" y="718.28" width="30.0" height="0.80" fill="#008C8F"/>
<rect x="490.0" y="717.78" width="30.0" height="0.80" fill="#008D8F"/>
<rect x="490.0" y="717.29" width="30.0" height="0.80" fill="#008E8E"/>
<rect x="490.0" y="716.79" width="30.0" height="0.80" fill="#008F8E"/>
<rect x="490.0" y="716.29" width="30.0" height="0.80" fill="#008F8E"/>
<rect x="490.0" y="715.80" width="30.0" height="0.80" fill="#00908E"/>
<rect x="490.0" y="715.30" width="30.0" height="0.80" fill="#00918E"/>
<rect x="490.0" y="714.80" width="30.0" height="0.80" fill="#00928E"/>
<rect x="490.0" y="714.31" width="30.0" height="0.80" fill="#00938D"/>
<rect x="490.0" y="713.81" width="30.0" height="0.80" fill="#00938D"/>
<rect x="490.0" y="713.31" width="30.0" height="0.80" fill="#00948D"/>
<rect x="490.0" y="712.82" width="30.0" height="0.80" fill="#00958D"/>
<rect x="490.0" y="712.32" width="30.0" height="0.80" fill="#00968C"/>
<rect x="490.0" y="711.82" width="30.0" height="0.80" fill="#00978C"/>
<rect x="490.0" y="711.33" width="30.0" height="0.80" fill="#00988C"/>
<rect x="490.0" y="710.83" width="30.0" height="0.80" fill="#00988C"/>
<rect x="490.0" y="710.33" width="30.0" height="0.80" fill="#00998B"/>
<rect x="490.0" y="709.84" width="30.0" height="0.80" fill="#009A8B"/>
<rect x="490.0" y="709.34" width="30.0" height="0.80" fill="#009B8B"/>
<rect x="490.0" y="708.84" width="30.0" height="0.80" fill="#009C8A"/>
<rect x="490.0" y="708.35" width="30.0" height="0.80" fill="#009C8A"/>
<rect x="490.0" y="707.85" width="30.0" height="0.80" fill="#009D8A"/>
<rect x="490.0" y="707.35" width="30.0" height="0.80" fill="#009E8A"/>
<rect x="490.0" y="706.86" width="30.0" height="0.80" fill="#009F89"/>
<rect x="490.0" y="706.36" width="30.0" height="0.80" fill="#00A089"/>
<rect x="490.0" y="705.86" width="30.0" height="0.80" fill="#00A088"/>
<rect x="490.0" y="705.37" width="30.0" height="0.80" fill="#00A188"/>
<rect x="490.0" y="704.87" width="30.0" height="0.80" fill="#00A288"/>
<rect x="490.0" y="704.37" width="30.0" height="0.80" fill="#00A387"/>
<rect x="490.0" y="703.88" width="30.0" height="0.80" fill="#00A487"/>
<rect x="490.0" y="703.38" width="30.0" height="0.80" fill="#00A486"/>
<rect x="490.0" y="702.88" width="30.0" height="0.80" fill="#00A586"/>
<rect x="490.0" y="702.39" width="30.0" height="0.80" fill="#00A685"/>
<rect x="490.0" y="701.89" width="30.0" height="0.80" fill="#00A785"/>
<rect x="490.0" y="701.39" width="30.0" height="0.80" fill="#00A884"/>
<rect x="490.0" y="700.90" width="30.0" height="0.80" fill="#00A884"/>
<rect x="490.0" y="700.40" width="30.0" height="0.80" fill="#00A983"/>
<rect x="490.0" y="699.90" width="30.0" height="0.80" fill="#00AA83"/>
<rect x="490.0" y="699.41" width="30.0" height="0.80" fill="#00AB82"/>
<rect x="490.0" y="698.91" width="30.0" height="0.80" fill="#00AC82"/>
<rect x="490.0" y="698.41" width="30.0" height="0.80" fill="#00AC81"/>
<rect x="490.0" y="697.92" width="30.0" height="0.80" fill="#00AD81"/>
<rect x="490.0" y="697.42" width="30.0" height="0.80" fill="#00AE80"/>
<rect x="490.0" y="696.92" width="30.0" height="0.80" fill="#00AF7F"/>
<rect x="490.0" y="696.43" width="30.0" height="0.80" fill="#00AF7F"/>
<rect x="490.0" y="695.93" width="30.0" height="0.80" fill="#00B07E"/>
<rect x="490.0" y="695.43" width="30.0" height="0.80" fill="#00B17E"/>
<rect x="490.0" y="694.94" width="30.0" height="0.80" fill="#00B27D"/>
<rect x="490.0" y="694.44" width="30.0" height="0.80" fill="#00B27C"/>
<rect x="490.0" y="693.94" width="30.0" height="0.80" fill="#00B37B"/>
<rect x="490.0" y="693.45" width="30.0" height="0.80" fill="#00B47B"/>
<rect x="490.0" y="692.95" width="30.0" height="0.80" fill="#00B57A"/>
<rect x="490.0" y="692.45" width="30.0" height="0.80" fill="#00B679"/>
<rect x="490.0" y="691.96" width="30.0" height="0.80" fill="#00B678"/>
<rect x="490.0" y="691.46" width="30.0" height="0.80" fill="#00B778"/>
<rect x="490.0" y="690.96" width="30.0" height="0.80" fill="#00B877"/>
<rect x="490.0" y="690.47" width="30.0" height="0.80" fill="#00B876"/>
<rect x="490.0" y="689.97" width="30.0" height="0.80" fill="#00B975"/>
<rect x="490.0" y="689.47" width="30.0" height="0.80" fill="#00BA74"/>
<rect x="490.0" y="688.98" width="30.0" height="0.80" fill="#00BB73"/>
<rect x="490.0" y="688.48" width="30.0" height="0.80" fill="#00BB72"/>
<rect x="490.0" y="687.98" width="30.0" height="0.80" fill="#00BC72"/>
<rect x="490.0" y="687.49" width="30.0" height="0.80" fill="#00BD71"/>
<rect x="490.0" y="686.99" width="30.0" height="0.80" fill="#00BE70"/>
<rect x="490.0" y="686.49" width="30.0" height="0.80" fill="#00BE6F"/>
<rect x="490.0" y="686.00" width="30.0" height="0.80" fill="#00BF6E"/>
<rect x="490.0" y="685.50" width="30.0" height="0.80" fill="#00C06D"/>
<rect x="490.0" y="685.00" width="30.0" height="0.80" fill="#00C06C"/>
<rect x="490.0" y="684.51" width="30.0" height="0.80" fill="#00C16B"/>
<rect x="490.0" y="684.01" width="30.0" height="0.80" fill="#00C269"/>
<rect x="490.0" y="683.51" width="30.0" height="0.80" fill="#00C368"/>
<rect x="490.0" y="683.02" width="30.0" height="0.80" fill="#00C367"/>
<rect x="490.0" y="682.52" width="30.0" height="0.80" fill="#00C466"/>
<rect x="490.0" y="682.02" width="30.0" height="0.80" fill="#00C565"/>
<rect x="490.0" y="681.53" width="30.0" height="0.80" fill="#00C564"/>
<rect x="490.0" y="681.03" width="30.0" height="0.80" fill="#00C663"/>
<rect x="490.0" y="680.53" width="30.0" height="0.80" fill="#00C761"/>
<rect x="490.0" y="680.04" width="30.0" height="0.80" fill="#00C760"/>
<rect x="490.0" y="679.54" width="30.0" height="0.80" fill="#00C85F"/>
<rect x="490.0" y="679.04" width="30.0" height="0.80" fill="#00C85E"/>
<rect x="490.0" y="678.55" width="30.0" height="0.80" fill="#00C95C"/>
<rect x="490.0" y="678.05" width="30.0" height="0.80" fill="#00CA5B"/>
<rect x="490.0" y="677.55" width="30.0" height="0.80" fill="#00CA5A"/>
<rect x="490.0" y="677.06" width="30.0" height="0.80" fill="#00CB58"/>
<rect x="490.0" y="676.56" width="30.0" height="0.80" fill="#00CC57"/>
<rect x="490.0" y="676.06" width="30.0" height="0.80" fill="#00CC55"/>
<rect x="490.0" y="675.57" width="30.0" height="0.80" fill="#00CD54"/>
<rect x="490.0" y="675.07" width="30.0" height="0.80" fill="#00CD52"/>
<rect x="490.0" y="674.57" width="30.0" height="0.80" fill="#00CE51"/>
<rect x="490.0" y="674.08" width="30.0" height="0.80" fill="#00CF4F"/>
<rect x="490.0" y="673.58" width="30.0" height="0.80" fill="#00CF4E"/>
<rect x="490.0" y="673.08" width="30.0" height="0.80" fill="#00D04C"/>
<rect x="490.0" y="672.59" width="30.0" height="0.80" fill="#00D04A"/>
<rect x="490.0" y="672.09" width="30.0" height="0.80" fill="#00D149"/>
<rect x="490.0" y="671.59" width="30.0" height="0.80" fill="#00D147"/>
<rect x="490.0" y="671.10" width="30.0" height="0.80" fill="#13D245"/>
<rect x="490.0" y="670.60" width="30.0" height="0.80" fill="#21D343"/>
<rect x="490.0" y="670.10" width="30.0" height="0.80" fill="#2BD342"/>
<rect x="490.0" y="669.61" width="30.0" height="0.80" fill="#33D440"/>
<rect x="490.0" y="669.11" width="30.0" height="0.80" fill="#3AD43E"/>
<rect x="490.0" y="668.61" width="30.0" height="0.80" fill="#41D53C"/>
<rect x="490.0" y="668.12" width="30.0" height="0.80" fill="#47D53A"/>
<rect x="490.0" y="667.62" width="30.0" height="0.80" fill="#4CD638"/>
<rect x="490.0" y="667.12" width="30.0" height="0.80" fill="#51D635"/>
<rect x="490.0" y="666.63" width="30.0" height="0.80" fill="#57D733"/>
<rect x="490.0" y="666.13" width="30.0" height="0.80" fill="#5BD731"/>
<rect x="490.0" y="665.63" width="30.0" height="0.80" fill="#60D82E"/>
<rect x="490.0" y="665.14" width="30.0" height="0.80" fill="#65D82C"/>
<rect x="490.0" y="664.64" width="30.0" height="0.80" fill="#69D829"/>
<rect x="490.0" y="664.14" width="30.0" height="0.80" fill="#6DD927"/>
<rect x="490.0" y="663.65" width="30.0" height="0.80" fill="#71D924"/>
<rect x="490.0" y="663.15" width="30.0" height="0.80" fill="#76DA21"/>
<rect x="490.0" y="662.65" width="30.0" height="0.80" fill="#7ADA1D"/>
<rect x="490.0" y="662.16" width="30.0" height="0.80" fill="#7EDB1A"/>
<rect x="490.0" y="661.66" width="30.0" height="0.80" fill="#81DB15"/>
<rect x="490.0" y="661.16" width="30.0" height="0.80" fill="#85DB11"/>
<rect x="490.0" y="660.67" width="30.0" height="0.80" fill="#89DC0B"/>
<rect x="490.0" y="660.17" width="30.0" height="0.80" fill="#8DDC04"/>
<rect x="490.0" y="659.67" width="30.0" height="0.80" fill="#91DD00"/>
<rect x="490.0" y="659.18" width="30.0" height="0.80" fill="#94DD00"/>
<rect x="490.0" y="658.68" width="30.0" height="0.80" fill="#98DD00"/>
<rect x="490.0" y="658.18" width="30.0" height="0.80" fill="#9BDE00"/>
<rect x="490.0" y="657.69" width="30.0" height="0.80" fill="#9FDE00"/>
<rect x="490.0" y="657.19" width="30.0" height="0.80" fill="#A2DE00"/>
<rect x="490.0" y="656.69" width="30.0" height="0.80" fill="#A6DF00"/>
<rect x="490.0" y="656.20" width="30.0" height="0.80" fill="#A9DF00"/>
<rect x="490.0" y="655.70" width="30.0" height="0.80" fill="#ADDF00"/>
<rect x="490.0" y="655.20" width="30.0" height="0.80" fill="#B0E000"/>
<rect x="490.0" y="654.71" width="30.0" height="0.80" fill="#B3E000"/>
<rect x="490.0" y="654.21" width="30.0" height="0.80" fill="#B7E000"/>
<rect x="490.0" y="653.71" width="30.0" height="0.80" fill="#BAE100"/>
<rect x="490.0" y="653.22" width="30.0" height="0.80" fill="#BDE100"/>
<rect x="490.0" y="652.72" width="30.0" height="0.80" fill="#C0E100"/>
<rect x="490.0" y="652.22" width="30.0" height="0.80" fill="#C4E200"/>
<rect x="490.0" y="651.73" width="30.0" height="0.80" fill="#C7E200"/>
<rect x="490.0" y="651.23" width="30.0" height="0.80" fill="#CAE200"/>
<rect x="490.0" y="650.73" width="30.0" height="0.80" fill="#CDE200"/>
<rect x="490.0" y="650.24" width="30.0" height="0.80" fill="#D0E300"/>
<rect x="490.0" y="649.74" width="30.0" height="0.80" fill="#D3E300"/>
<rect x="490.0" y="649.24" width="30.0" height="0.80" fill="#D6E300"/>
<rect x="490.0" y="648.75" width="30.0" height="0.80" fill="#D9E400"/>
<rect x="490.0" y="648.25" width="30.0" height="0.80" fill="#DCE400"/>
<rect x="490.0" y="647.75" width="30.0" height="0.80" fill="#DFE400"/>
<rect x="490.0" y="647.26" width="30.0" height="0.80" fill="#E2E400"/>
<rect x="490.0" y="646.76" width="30.0" height="0.80" fill="#E5E500"/>
<rect x="490.0" y="646.26" width="30.0" height="0.80" fill="#E8E500"/>
<rect x="490.0" y="645.77" width="30.0" height="0.80" fill="#EAE500"/>
<rect x="490.0" y="645.27" width="30.0" height="0.80" fill="#EDE500"/>
<rect x="490.0" y="644.77" width="30.0" height="0.80" fill="#F0E600"/>
<rect x="490.0" y="644.28" width="30.0" height="0.80" fill="#F3E600"/>
<rect x="490.0" y="643.78" width="30.0" height="0.80" fill="#F6E600"/>
<rect x="490.0" y="643.28" width="30.0" height="0.80" fill="#F8E600"/>
<rect x="490.0" y="642.79" width="30.0" height="0.80" fill="#FBE700"/>
<rect x="490.0" y="642.29" width="30.0" height="0.80" fill="#FEE700"/>
<rect x="490.0" y="641.79" width="30.0" height="0.80" fill="#FFE700"/>
<rect x="490.0" y="641.30" width="30.0" height="0.80" fill="#FFE700"/>
<rect x="490.0" y="640.80" width="30.0" height="0.80" fill="#FFE800"/>
<g font-size="15.0" fill="#000" stroke="#000" stroke-width="0.3">
<text x="524.4" y="795.20">0</text>
<text x="524.4" y="751.38">10</text>
<text x="524.4" y="707.55">20</text>
<text x="524.4" y="663.73">30</text>
</g>
<path d="M490.0 789.80h6.0M520.0 789.80h-6.0M490.0 745.98h6.0M520.0 745.98h-6.0M490.0 702.15h6.0M520.0 702.15h-6.0M490.0 658.33h6.0M520.0 658.33h-6.0" stroke="#fff" stroke-opacity="0.6" stroke-width="1.07" fill="none"/>
</svg>
</body></html>
